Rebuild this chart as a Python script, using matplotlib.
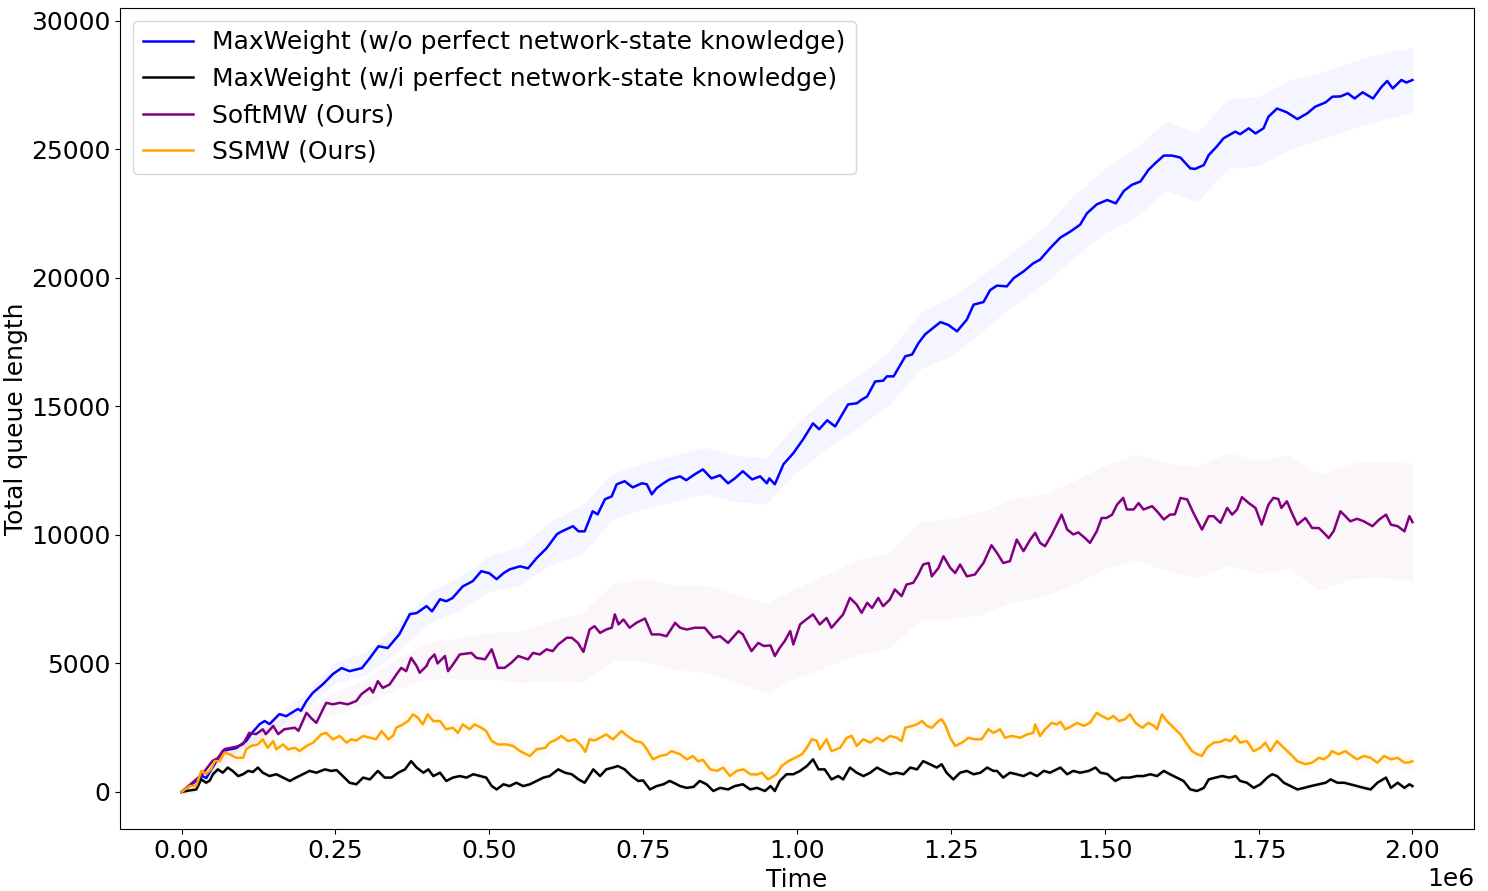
import numpy as np
import matplotlib
matplotlib.use("Agg")
import matplotlib.pyplot as plt

# ---------------- data (time in units of 1e6) ----------------
blue_t = [0, 0.034, 0.04, 0.067, 0.089, 0.105, 0.114, 0.127, 0.135, 0.143, 0.159, 0.17, 0.189, 0.194, 0.203, 0.213,
          0.23, 0.246, 0.26, 0.273, 0.293, 0.306, 0.32, 0.335, 0.354, 0.371, 0.382, 0.398, 0.407, 0.42, 0.43, 0.44,
          0.457, 0.473, 0.487, 0.5, 0.512, 0.523, 0.533, 0.55, 0.563, 0.577, 0.593, 0.61, 0.618, 0.636, 0.645,
          0.655, 0.668, 0.676, 0.688, 0.699, 0.707, 0.72, 0.733, 0.748, 0.756, 0.764, 0.772, 0.783, 0.793, 0.81,
          0.82, 0.834, 0.847, 0.861, 0.875, 0.888, 0.899, 0.912, 0.927, 0.94, 0.951, 0.955, 0.964, 0.978, 0.994,
          1.01, 1.026, 1.036, 1.049, 1.062, 1.083, 1.097, 1.105, 1.114, 1.127, 1.14, 1.146, 1.157, 1.176, 1.187,
          1.197, 1.208, 1.233, 1.246, 1.26, 1.276, 1.287, 1.303, 1.314, 1.325, 1.341, 1.352, 1.368, 1.384, 1.395,
          1.411, 1.428, 1.444, 1.46, 1.471, 1.487, 1.504, 1.518, 1.531, 1.544, 1.558, 1.571, 1.582, 1.596, 1.609,
          1.623, 1.639, 1.647, 1.661, 1.669, 1.682, 1.693, 1.712, 1.72, 1.734, 1.745, 1.758, 1.766, 1.78, 1.796,
          1.813, 1.829, 1.842, 1.859, 1.87, 1.883, 1.895, 1.906, 1.919, 1.936, 1.95, 1.959, 1.968, 1.982, 1.99, 2.0]
blue_q = [0, 620, 540, 1600, 1710, 1980, 2290, 2640, 2760, 2640, 3030, 2950, 3230, 3160, 3540, 3850,
          4200, 4590, 4820, 4700, 4820, 5210, 5670, 5600, 6140, 6920, 6960, 7230, 7030, 7500, 7420, 7540,
          8000, 8200, 8590, 8510, 8280, 8510, 8660, 8780, 8700, 9100, 9480, 10030, 10140, 10340, 10140,
          10140, 10920, 10800, 11390, 11500, 11970, 12090, 11850, 12010, 11970, 11580, 11820, 12010, 12160, 12280,
          12130, 12360, 12550, 12200, 12320, 12010, 12200, 12480, 12160, 12280, 12010, 12200, 11970, 12750, 13180,
          13720, 14340, 14110, 14460, 14220, 15080, 15120, 15260, 15390, 15970, 16000, 16170, 16170, 16950, 17020,
          17450, 17800, 18280, 18170, 17920, 18380, 18960, 19060, 19530, 19700, 19670, 19990, 20250, 20570, 20710,
          21150, 21570, 21800, 22070, 22510, 22860, 23030, 22900, 23380, 23620, 23750, 24200, 24460, 24760, 24760,
          24680, 24260, 24240, 24390, 24780, 25110, 25430, 25690, 25590, 25820, 25620, 25820, 26270, 26590, 26440,
          26180, 26400, 26660, 26830, 27050, 27060, 27180, 26980, 27220, 26980, 27440, 27660, 27370, 27700, 27600, 27700]

purple_t = [0, 0.034, 0.05, 0.059, 0.07, 0.081, 0.089, 0.1, 0.11, 0.121, 0.132, 0.137, 0.149, 0.157, 0.167, 0.184,
            0.19, 0.197, 0.203, 0.21, 0.219, 0.227, 0.235, 0.246, 0.257, 0.27, 0.284, 0.292, 0.306, 0.311, 0.319,
            0.327, 0.338, 0.349, 0.357, 0.365, 0.373, 0.382, 0.387, 0.398, 0.403, 0.411, 0.416, 0.428, 0.433, 0.441,
            0.452, 0.471, 0.479, 0.493, 0.504, 0.514, 0.525, 0.536, 0.547, 0.563, 0.571, 0.582, 0.593, 0.603, 0.612,
            0.626, 0.634, 0.644, 0.653, 0.663, 0.671, 0.68, 0.69, 0.699, 0.704, 0.71, 0.718, 0.728, 0.739, 0.753,
            0.764, 0.777, 0.788, 0.802, 0.81, 0.821, 0.834, 0.85, 0.864, 0.875, 0.888, 0.905, 0.912, 0.926, 0.937,
            0.946, 0.957, 0.964, 0.972, 0.98, 0.989, 0.994, 1.005, 1.015, 1.026, 1.037, 1.048, 1.056, 1.07, 1.075,
            1.086, 1.097, 1.105, 1.114, 1.122, 1.132, 1.14, 1.151, 1.159, 1.17, 1.178, 1.189, 1.197, 1.205, 1.214,
            1.219, 1.23, 1.238, 1.249, 1.257, 1.265, 1.276, 1.289, 1.303, 1.316, 1.325, 1.335, 1.346, 1.357, 1.368,
            1.379, 1.387, 1.395, 1.403, 1.414, 1.43, 1.439, 1.449, 1.457, 1.468, 1.476, 1.487, 1.495, 1.503, 1.512,
            1.52, 1.53, 1.536, 1.547, 1.555, 1.563, 1.577, 1.585, 1.596, 1.606, 1.614, 1.623, 1.634, 1.644, 1.658,
            1.669, 1.677, 1.688, 1.699, 1.707, 1.715, 1.723, 1.734, 1.745, 1.755, 1.766, 1.774, 1.782, 1.787, 1.796,
            1.804, 1.813, 1.826, 1.837, 1.848, 1.856, 1.864, 1.872, 1.883, 1.891, 1.899, 1.91, 1.921, 1.935, 1.946,
            1.957, 1.965, 1.976, 1.987, 1.995, 2.0]
purple_q = [0, 700, 1200, 1320, 1670, 1720, 1760, 1860, 2300, 2250, 2440, 2250, 2570, 2250, 2440, 2500,
            2380, 2760, 3080, 2890, 2690, 3080, 3470, 3410, 3470, 3410, 3540, 3800, 4050, 3870, 4310,
            4050, 4180, 4570, 4830, 4700, 5220, 4900, 4640, 4900, 5160, 5350, 5000, 5290, 4700, 4960,
            5350, 5410, 5220, 5160, 5550, 4830, 4830, 5030, 5290, 5160, 5410, 5350, 5550, 5480, 5740,
            6000, 6000, 5800, 5450, 6320, 6450, 6190, 6320, 6390, 6910, 6520, 6710, 6390, 6580, 6750,
            6130, 6130, 6060, 6580, 6390, 6320, 6390, 6390, 6000, 6060, 5800, 6260, 6130, 5480, 5800,
            5680, 5700, 5290, 5610, 5870, 6260, 5740, 6520, 6710, 6910, 6520, 6770, 6390, 6770, 6910,
            7550, 7290, 6970, 7360, 7160, 7550, 7230, 7490, 7880, 7620, 8070, 8140, 8460, 8850, 8910,
            8390, 8720, 9170, 8720, 8520, 8850, 8390, 8460, 8910, 9600, 9300, 8910, 8980, 9820, 9370,
            9820, 10080, 9690, 9560, 10020, 10790, 10210, 10020, 10100, 9880, 9690, 10140, 10660, 10660, 10790,
            11180, 11440, 10990, 10990, 11240, 10990, 11120, 10920, 10600, 10790, 10800, 11440, 11380, 10860, 10210,
            10730, 10730, 10470, 11050, 10790, 10990, 11470, 11240, 11050, 10400, 11180, 11440, 11400, 11050, 11310,
            10860, 10400, 10660, 10270, 10270, 10080, 9880, 10150, 10920, 10730, 10530, 10630, 10530, 10340, 10600,
            10790, 10400, 10340, 10140, 10730, 10500]

orange_t = [0, 0.013, 0.024, 0.032, 0.04, 0.048, 0.054, 0.062, 0.07, 0.078, 0.089, 0.1, 0.105, 0.113, 0.124, 0.132,
            0.14, 0.149, 0.154, 0.165, 0.173, 0.184, 0.192, 0.203, 0.214, 0.227, 0.235, 0.246, 0.257, 0.268, 0.276,
            0.284, 0.295, 0.306, 0.316, 0.325, 0.336, 0.344, 0.349, 0.36, 0.368, 0.376, 0.384, 0.392, 0.4, 0.409,
            0.42, 0.43, 0.441, 0.449, 0.457, 0.468, 0.476, 0.487, 0.495, 0.504, 0.514, 0.528, 0.539, 0.55, 0.56,
            0.566, 0.577, 0.591, 0.598, 0.61, 0.617, 0.628, 0.639, 0.65, 0.656, 0.663, 0.671, 0.68, 0.69, 0.701,
            0.715, 0.723, 0.737, 0.748, 0.756, 0.766, 0.777, 0.788, 0.796, 0.81, 0.821, 0.831, 0.839, 0.847, 0.859,
            0.87, 0.88, 0.891, 0.902, 0.913, 0.924, 0.935, 0.943, 0.953, 0.962, 0.967, 0.975, 0.986, 0.997, 1.008,
            1.016, 1.024, 1.032, 1.037, 1.048, 1.056, 1.07, 1.081, 1.089, 1.097, 1.108, 1.119, 1.13, 1.14, 1.151,
            1.162, 1.17, 1.176, 1.187, 1.195, 1.203, 1.211, 1.219, 1.23, 1.235, 1.241, 1.249, 1.257, 1.268, 1.279,
            1.289, 1.3, 1.311, 1.319, 1.33, 1.338, 1.349, 1.363, 1.374, 1.384, 1.387, 1.395, 1.403, 1.414, 1.422,
            1.428, 1.436, 1.447, 1.455, 1.466, 1.476, 1.487, 1.495, 1.506, 1.514, 1.523, 1.533, 1.541, 1.55, 1.561,
            1.571, 1.58, 1.585, 1.593, 1.601, 1.609, 1.623, 1.634, 1.642, 1.65, 1.658, 1.666, 1.677, 1.688, 1.696,
            1.704, 1.712, 1.72, 1.731, 1.742, 1.753, 1.761, 1.769, 1.78, 1.791, 1.802, 1.813, 1.826, 1.837, 1.848,
            1.856, 1.864, 1.869, 1.88, 1.891, 1.902, 1.91, 1.921, 1.932, 1.943, 1.954, 1.965, 1.976, 1.987, 1.995, 2.0]
orange_q = [0, 230, 250, 820, 700, 880, 1200, 1200, 1530, 1470, 1330, 1330, 1660, 1790, 1850, 2050,
            1720, 1980, 1660, 1850, 1660, 1720, 1590, 1790, 1920, 2240, 2300, 2050, 2180, 1920, 2050,
            2000, 2180, 2110, 2050, 2370, 2050, 2200, 2500, 2630, 2760, 3020, 2890, 2630, 3020, 2760,
            2760, 2440, 2500, 2300, 2630, 2440, 2630, 2500, 2370, 1980, 1850, 1850, 1790, 1590, 1470,
            1400, 1660, 1720, 1920, 2050, 2180, 1980, 2050, 1790, 1560, 2050, 2000, 2110, 2240, 2050,
            2370, 2200, 1980, 1920, 1660, 1270, 1400, 1450, 1590, 1470, 1270, 1400, 1200, 1250, 880,
            820, 950, 620, 820, 880, 690, 680, 750, 490, 620, 700, 1010, 1200, 1330, 1470,
            1720, 2050, 2000, 1660, 2050, 1590, 1720, 2110, 2180, 1790, 2050, 1920, 2110, 1980, 2180,
            2110, 1980, 2500, 2570, 2630, 2760, 2570, 2500, 2760, 2830, 2600, 2110, 1790, 1920, 2110,
            2050, 2050, 2440, 2300, 2440, 2110, 2180, 2110, 2240, 2300, 2630, 2180, 2440, 2690, 2630,
            2730, 2440, 2570, 2690, 2570, 2690, 3080, 2960, 2830, 2960, 2760, 2830, 3020, 2690, 2500,
            2690, 2570, 2440, 3020, 2760, 2570, 2240, 1850, 1590, 1470, 1400, 1720, 1920, 1950, 2050,
            1980, 2180, 1920, 1980, 1590, 1720, 1920, 1590, 1980, 1720, 1470, 1200, 1080, 1140, 1330,
            1270, 1400, 1590, 1470, 1590, 1400, 1270, 1400, 1330, 1140, 1400, 1270, 1330, 1140, 1150, 1200]

black_t = [0, 0.013, 0.024, 0.032, 0.04, 0.046, 0.051, 0.059, 0.067, 0.075, 0.083, 0.092, 0.1, 0.108, 0.116, 0.124,
           0.132, 0.143, 0.154, 0.165, 0.176, 0.186, 0.197, 0.208, 0.219, 0.233, 0.243, 0.252, 0.262, 0.273, 0.284,
           0.295, 0.306, 0.319, 0.33, 0.341, 0.352, 0.363, 0.373, 0.382, 0.393, 0.401, 0.409, 0.42, 0.43, 0.441,
           0.452, 0.463, 0.474, 0.485, 0.495, 0.504, 0.512, 0.523, 0.533, 0.544, 0.555, 0.566, 0.577, 0.588, 0.598,
           0.612, 0.623, 0.634, 0.645, 0.655, 0.669, 0.68, 0.69, 0.701, 0.709, 0.72, 0.731, 0.742, 0.75, 0.761,
           0.772, 0.783, 0.793, 0.802, 0.81, 0.821, 0.832, 0.842, 0.853, 0.864, 0.875, 0.888, 0.899, 0.912, 0.924,
           0.935, 0.948, 0.957, 0.964, 0.972, 0.983, 0.994, 1.005, 1.016, 1.026, 1.035, 1.045, 1.056, 1.067, 1.075,
           1.086, 1.097, 1.108, 1.119, 1.13, 1.14, 1.151, 1.162, 1.173, 1.184, 1.195, 1.205, 1.216, 1.227, 1.235,
           1.243, 1.254, 1.265, 1.276, 1.287, 1.298, 1.309, 1.319, 1.325, 1.335, 1.346, 1.357, 1.368, 1.379, 1.39,
           1.401, 1.411, 1.428, 1.439, 1.449, 1.46, 1.474, 1.485, 1.493, 1.504, 1.517, 1.528, 1.541, 1.552, 1.563,
           1.574, 1.585, 1.596, 1.606, 1.617, 1.628, 1.639, 1.65, 1.661, 1.669, 1.68, 1.691, 1.702, 1.713, 1.72,
           1.731, 1.742, 1.753, 1.764, 1.772, 1.78, 1.791, 1.802, 1.813, 1.824, 1.835, 1.848, 1.859, 1.867, 1.878,
           1.889, 1.899, 1.91, 1.921, 1.932, 1.943, 1.957, 1.965, 1.976, 1.987, 1.995, 2.0]
black_q = [0, 60, 100, 490, 360, 450, 690, 880, 750, 950, 820, 620, 690, 820, 780, 950,
           750, 620, 690, 560, 430, 560, 690, 820, 750, 880, 820, 850, 620, 360, 300,
           560, 490, 820, 560, 560, 750, 880, 1200, 950, 750, 880, 620, 750, 430, 560,
           620, 560, 690, 620, 560, 230, 100, 300, 230, 360, 230, 300, 430, 560, 620,
           880, 750, 690, 490, 360, 880, 620, 880, 950, 1010, 880, 620, 430, 450, 100,
           230, 300, 430, 330, 230, 160, 200, 430, 300, 40, 160, 100, 230, 300, 100,
           160, 40, 230, 40, 430, 690, 690, 820, 1010, 1270, 880, 880, 490, 620, 490,
           950, 750, 620, 750, 950, 820, 690, 750, 690, 950, 880, 1200, 1080, 950, 1080,
           750, 490, 750, 820, 690, 750, 950, 820, 820, 560, 750, 690, 620, 750, 620,
           820, 750, 950, 690, 820, 750, 820, 950, 750, 700, 430, 560, 560, 620, 620,
           690, 620, 820, 690, 560, 430, 100, 40, 160, 490, 560, 620, 560, 620, 430,
           360, 160, 300, 560, 690, 620, 360, 230, 100, 160, 230, 300, 360, 490, 360,
           360, 300, 230, 160, 100, 360, 560, 160, 360, 160, 300, 230]

# shaded bands (read at every 0.05e6)
band_t = [0, 0.05, 0.1, 0.15, 0.2, 0.25, 0.3, 0.35, 0.4, 0.45, 0.5, 0.55, 0.6, 0.65, 0.7, 0.75, 0.8, 0.85, 0.9,
          0.95, 1.0, 1.05, 1.1, 1.15, 1.2, 1.25, 1.3, 1.35, 1.4, 1.45, 1.5, 1.55, 1.6, 1.65, 1.7, 1.75, 1.8, 1.85,
          1.9, 1.95, 2.0]
blue_hi = [0, 900, 2100, 2950, 3800, 5050, 5450, 6550, 7750, 8350, 9200, 9530, 10550, 11150, 12400, 12800, 13100,
           13400, 13100, 13000, 14350, 15400, 16200, 17150, 18650, 19250, 20100, 21000, 21950, 23200, 24250, 25050,
           26100, 25650, 26950, 27050, 27700, 28000, 28400, 28750, 28950]
blue_lo = [0, 700, 1700, 2450, 3200, 4250, 4550, 5450, 6550, 7050, 7800, 8030, 8850, 9250, 10600, 11000, 11300,
           11600, 11300, 11200, 12450, 13400, 14200, 15050, 16450, 16950, 17900, 18900, 19750, 20800, 21750, 22350,
           23400, 22950, 24250, 24350, 25000, 25400, 25800, 26150, 26450]
purple_hi = [0, 1300, 2010, 2750, 3250, 3900, 4400, 5200, 5800, 6000, 6200, 6250, 6650, 6950, 8100, 8300, 8050,
             8050, 7700, 7350, 7950, 8500, 9050, 9300, 10500, 10650, 10900, 11400, 11600, 12100, 12700, 13150, 12800,
             12650, 13200, 12900, 13100, 12350, 12800, 12850, 12800]
purple_lo = [0, 1100, 1710, 2250, 2550, 3000, 3400, 4000, 4400, 4400, 4400, 4250, 4350, 4250, 5100, 5100, 4750,
             4650, 4300, 3850, 4450, 4900, 5350, 5600, 6700, 6750, 6900, 7400, 7600, 8100, 8700, 9050, 8600, 8350,
             8800, 8500, 8700, 7850, 8300, 8350, 8200]
orange_halfwidth = 300
black_halfwidth = 100

labels = ["MaxWeight (w/o perfect network-state knowledge)",
          "MaxWeight (w/i perfect network-state knowledge)",
          "SoftMW (Ours)",
          "SSMW (Ours)"]

# ---------------- plot ----------------
plt.rcParams['font.family'] = ['DejaVu Sans']
FS = 18
fig = plt.figure(figsize=(14.88, 8.91), dpi=100)
ax = fig.add_axes([120 / 1488, 1 - 829 / 891, (1474 - 120) / 1488, (829 - 8) / 891])

S = 1e6
LW = 1.8
bt = np.array(band_t) * S

ax.plot(np.array(blue_t) * S, blue_q, color='blue', lw=LW, label=labels[0])
ax.fill_between(bt, blue_lo, blue_hi, color='blue', alpha=0.04, lw=0)

ax.plot(np.array(black_t) * S, black_q, color='black', lw=LW, label=labels[1])
bq = np.array(black_q)
ax.fill_between(np.array(black_t) * S, bq - black_halfwidth, bq + black_halfwidth, color='black', alpha=0.04, lw=0)

ax.plot(np.array(purple_t) * S, purple_q, color='purple', lw=LW, label=labels[2])
ax.fill_between(bt, purple_lo, purple_hi, color='purple', alpha=0.035, lw=0)

ax.plot(np.array(orange_t) * S, orange_q, color='orange', lw=LW, label=labels[3])
oq = np.array(orange_q)
ax.fill_between(np.array(orange_t) * S, oq - orange_halfwidth, oq + orange_halfwidth, color='orange', alpha=0.05, lw=0)

ax.set_xlim(-0.1 * S, 2.1 * S)
ax.set_ylim(-1440, 30500)
ax.set_xticks(np.arange(0, 2.01, 0.25) * S)
ax.set_yticks(np.arange(0, 30001, 5000))
ax.tick_params(labelsize=FS)
ax.xaxis.get_offset_text().set_fontsize(FS)
ax.set_xlabel("Time", fontsize=FS, labelpad=4)
ax.set_ylabel("Total queue length", fontsize=FS, labelpad=2)
ax.legend(loc='upper left', fontsize=FS)

fig.savefig("out.png", dpi=100)
